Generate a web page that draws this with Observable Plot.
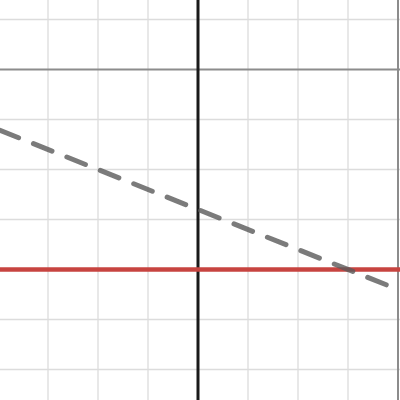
<!DOCTYPE html>
<html>
<head>
<meta charset="utf-8">
<script src="https://cdn.jsdelivr.net/npm/d3@7"></script>
<script src="https://cdn.jsdelivr.net/npm/@observablehq/plot@0.6"></script>
<style>
  html, body { margin: 0; padding: 0; background: #fff; }
  #chart svg { display: block; }
</style>
</head>
<body>
<div id="chart"></div>
<script>
// Grid values (data units)
const gridX = [-3, -2, -1, 1, 2, 3];
const gridY = [-2, -1, 1, 2, 3, 5];
// Darker boundary lines
const boundX = [4];
const boundY = [4];
// Axis
const axisX = [0];
// Red horizontal line y = 0
const redY = [0];
// Dashed line points
const dashX = [-3.96, 4];
const dashY = [2.784, -0.4];

const dashed = dashX.map((x, i) => ({x, y: dashY[i]}));

const chart = Plot.plot({
  width: 400,
  height: 400,
  margin: 0,
  x: {domain: [-3.95, 4.05], axis: null},
  y: {domain: [-2.62, 5.38], axis: null},
  style: {background: "#fff"},
  marks: [
    Plot.ruleX(gridX, {stroke: "#dcdcdc", strokeWidth: 1.3}),
    Plot.ruleY(gridY, {stroke: "#dcdcdc", strokeWidth: 1.3}),
    Plot.ruleX(boundX, {stroke: "#8c8c8c", strokeWidth: 2}),
    Plot.ruleY(boundY, {stroke: "#8c8c8c", strokeWidth: 2}),
    Plot.ruleX(axisX, {stroke: "#1a1a1a", strokeWidth: 3}),
    Plot.ruleY(redY, {stroke: "#c74440", strokeWidth: 4.5}),
    Plot.line(dashed, {x: "x", y: "y", stroke: "#5a5a5a", strokeOpacity: 0.8, strokeWidth: 5,
      strokeDasharray: "20,16", strokeLinecap: "round"})
  ]
});
document.getElementById("chart").append(chart);
</script>
</body>
</html>
